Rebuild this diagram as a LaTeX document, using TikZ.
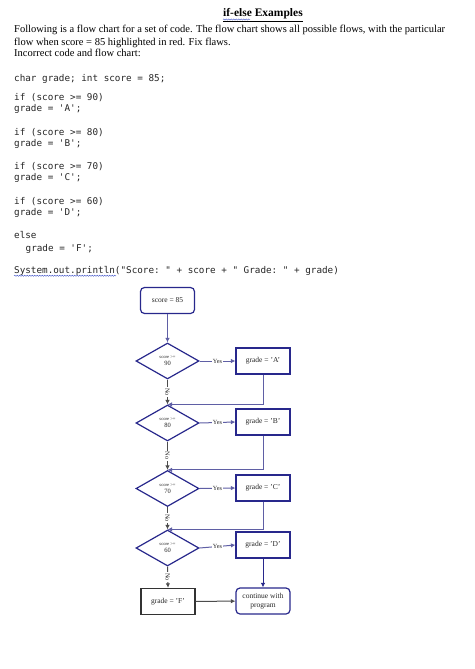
\documentclass[tikz,border=0pt]{standalone}
\usepackage{fontspec}
\setmainfont{Liberation Serif}
\setmonofont{DejaVu Sans Mono}
\usetikzlibrary{shapes.geometric,arrows.meta,decorations.pathmorphing}

\definecolor{navy}{RGB}{40,40,140}
\definecolor{flowline}{RGB}{95,95,165}
\definecolor{squiggle}{RGB}{60,80,200}

\tikzset{
  txt/.style={anchor=base west,inner sep=0pt,font=\fontsize{10.5}{12}\selectfont},
  code/.style={anchor=base west,inner sep=0pt,text=black!85,font=\fontsize{9.3}{11}\selectfont\ttfamily},
  proc/.style={draw=navy,line width=1.2pt,minimum width=54pt,minimum height=26pt,
    inner sep=0pt,align=center,text=black!85,font=\fontsize{7.5}{8.5}\selectfont},
  term/.style={proc,rounded corners=4pt},
  decide/.style={diamond,draw=navy,line width=1.2pt,minimum width=63pt,minimum height=36pt,
    inner sep=0pt,align=center,text=black!85,font=\fontsize{6.5}{7}\selectfont},
  link/.style={draw=flowline,line width=1pt,-{Latex[length=4.5pt,width=4.5pt]}},
  nolink/.style={draw=black!70,line width=1pt,-{Latex[length=4.5pt,width=4.5pt]}},
  lbl/.style={fill=white,inner sep=1.2pt,text=black!85,font=\fontsize{6.3}{6.3}\selectfont},
  spell/.style={draw=squiggle,line width=0.4pt,decorate,
    decoration={snake,amplitude=0.6pt,segment length=2.5pt}},
}
\newcommand{\cond}[1]{{\fontsize{4.6}{5.5}\selectfont score >=}\\#1}

\begin{document}
\begin{tikzpicture}[x=1pt,y=-1pt]
\useasboundingbox[fill=white] (0,0) rectangle (474,669);

% heading and text
\node[txt,font=\fontsize{11.5}{13}\selectfont\bfseries] (title) at (223,17) {\underline{if-else Examples}};
\node[txt] (par1) at (14,33) {Following is a flow chart for a set of code. The flow chart shows all possible flows, with the particular};
\node[txt] (par2) at (14,45.5) {flow when score = 85 highlighted in red. Fix flaws.};
\node[txt] (par3) at (14,56.5) {Incorrect code and flow chart:};

% code
\node[code] (c0) at (14,81.5) {char grade; int score = 85;};
\node[code] (c1) at (14,100) {if (score >= 90)};
\node[code] (c2) at (14,111.7) {grade = 'A';};
\node[code] (c3) at (14,135) {if (score >= 80)};
\node[code] (c4) at (14,146.7) {grade = 'B';};
\node[code] (c5) at (14,169.3) {if (score >= 70)};
\node[code] (c6) at (14,180.7) {grade = 'C';};
\node[code] (c7) at (14,204) {if (score >= 60)};
\node[code] (c8) at (14,215.7) {grade = 'D';};
\node[code] (c9) at (14,238.3) {else};
\node[code] (c10) at (25.5,251) {grade = 'F';};
\node[code] (c11) at (14,273.3) {System.out.println("Score: " + score + " Grade: " + grade)};
\draw[spell] ([yshift=-2.5pt]title.base west) -- ++(27,0);
\draw[spell] ([yshift=-2.5pt]c11.base west) -- ++(102,0);

% flow chart
\node[term] (start) at (167.5,300.5) {score = 85};
\node[decide] (d1) at (167.5,361) {\cond{90}};
\node[decide] (d2) at (167.5,423) {\cond{80}};
\node[decide] (d3) at (167.5,488.5) {\cond{70}};
\node[decide] (d4) at (167.5,548) {\cond{60}};
\node[proc] (ga) at (263,361) {grade = 'A'};
\node[proc] (gb) at (263,422) {grade = 'B'};
\node[proc] (gc) at (263,488) {grade = 'C'};
\node[proc] (gd) at (263,545) {grade = 'D'};
\node[proc,draw=black!80,line width=1.4pt] (gf) at (168,601.5) {grade = 'F'};
\node[term] (cont) at (263,601) {continue with\\program};

\draw[link] (start) -- (d1);
\foreach \d/\g in {d1/ga,d2/gb,d3/gc,d4/gd}
  \draw[link] (\d.east) -- node[lbl] {Yes} (\g.west);
\foreach \a/\b in {d1/d2,d2/d3,d3/d4,d4/gf}
  \draw[nolink] (\a.south) -- node[lbl,rotate=-90] {No} (\b.north);
\foreach \g/\d in {ga/d2,gb/d3,gc/d4}
  \draw[link] (\g.south) |- (\d.north);
\draw[link,draw=navy] (gd) -- (cont);
\draw[nolink] (gf) -- (cont);
\end{tikzpicture}
\end{document}
